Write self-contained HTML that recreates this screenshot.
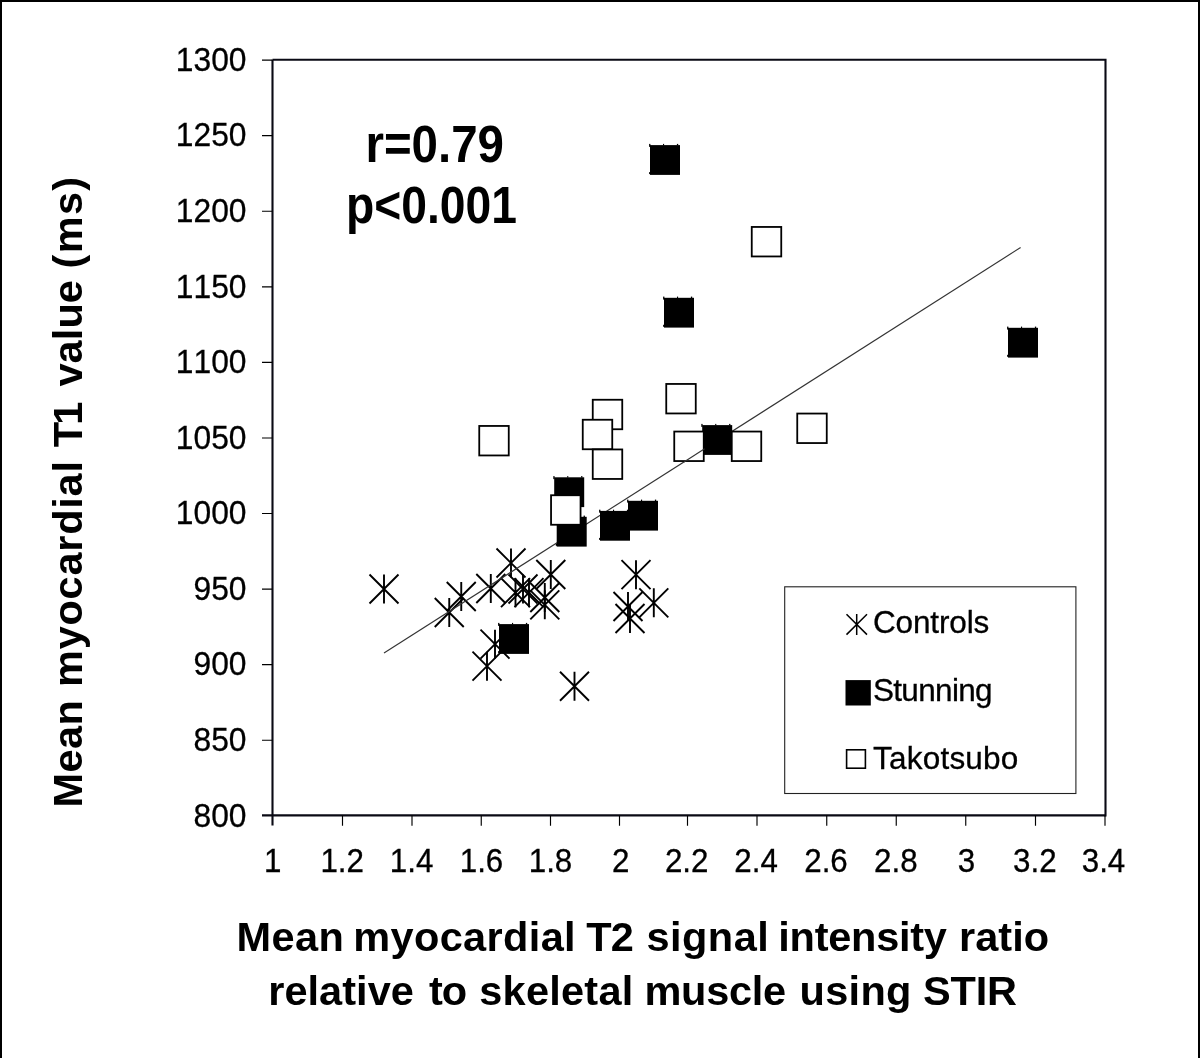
<!DOCTYPE html>
<html lang="en"><head><meta charset="utf-8"><title>Figure</title>
<style>
html,body{margin:0;padding:0;background:#fff;}
body{width:1200px;height:1058px;overflow:hidden;position:relative;}
svg{display:block;position:absolute;left:0;top:0;}
text{font-family:"Liberation Sans",Arial,sans-serif;fill:#000;}
.nk text{font-kerning:none;}
.b{font-weight:bold;}
</style></head><body>
<svg width="1200" height="1058" viewBox="0 0 1200 1058">
<defs>
<g id="st" stroke="#000" stroke-width="1.9" fill="none"><path d="M-14.5-14.5L14.5 14.5M14.5-14.5L-14.5 14.5M0-14.5V14.5"/></g>
<g id="bk" fill="#000"><rect x="-15" y="-14.9" width="30" height="29.8"/><rect x="-15.9" y="-16.1" width="1.3" height="3"/><rect x="-2" y="-16.1" width="1.1" height="1.5"/><rect x="11.9" y="-16.1" width="1.3" height="1.5"/><rect x="-15.9" y="12.1" width="1.2" height="2"/></g>
<rect id="wh" x="-14.75" y="-14.75" width="29.5" height="29.5" fill="#fff" stroke="#000" stroke-width="1.8"/>
</defs>
<rect x="0" y="0" width="1200" height="1058" fill="#fff"/>
<!-- outer frame -->
<rect x="0" y="0" width="1200" height="2" fill="#000"/>
<rect x="0" y="0" width="2" height="1058" fill="#000"/>
<rect x="1198" y="0" width="2" height="1058" fill="#000"/>

<g stroke="#0a0a14" stroke-width="2.1" fill="none">
<path d="M272.5 59.7H1105.5V816.4"/>
<path d="M272.5 59.7V825.4M262.0 815.4H1105.5"/>
<path stroke="#000" stroke-width="1.15" d="M262.0 60.10H272.5M262.0 135.67H272.5M262.0 211.24H272.5M262.0 286.81H272.5M262.0 362.38H272.5M262.0 437.95H272.5M262.0 513.52H272.5M262.0 589.09H272.5M262.0 664.66H272.5M262.0 740.23H272.5M342.50 815.4V825.6999999999999M412.00 815.4V825.6999999999999M481.25 815.4V825.6999999999999M550.50 815.4V825.6999999999999M619.50 815.4V825.6999999999999M687.50 815.4V825.6999999999999M757.00 815.4V825.6999999999999M826.75 815.4V825.6999999999999M896.25 815.4V825.6999999999999M965.75 815.4V825.6999999999999M1035.50 815.4V825.6999999999999M1105.00 815.4V825.6999999999999"/>
</g>
<g class="nk">
<text font-size="33.3" text-anchor="end" stroke="#000" stroke-width="0.3" transform="translate(246.5 70.8) scale(0.955 1)">1300</text>
<text font-size="33.3" text-anchor="end" stroke="#000" stroke-width="0.3" transform="translate(246.5 146.4) scale(0.955 1)">1250</text>
<text font-size="33.3" text-anchor="end" stroke="#000" stroke-width="0.3" transform="translate(246.5 221.9) scale(0.955 1)">1200</text>
<text font-size="33.3" text-anchor="end" stroke="#000" stroke-width="0.3" transform="translate(246.5 297.5) scale(0.955 1)">1150</text>
<text font-size="33.3" text-anchor="end" stroke="#000" stroke-width="0.3" transform="translate(246.5 373.1) scale(0.955 1)">1100</text>
<text font-size="33.3" text-anchor="end" stroke="#000" stroke-width="0.3" transform="translate(246.5 448.6) scale(0.955 1)">1050</text>
<text font-size="33.3" text-anchor="end" stroke="#000" stroke-width="0.3" transform="translate(246.5 524.2) scale(0.955 1)">1000</text>
<text font-size="33.3" text-anchor="end" stroke="#000" stroke-width="0.3" transform="translate(246.5 599.8) scale(0.955 1)">950</text>
<text font-size="33.3" text-anchor="end" stroke="#000" stroke-width="0.3" transform="translate(246.5 675.4) scale(0.955 1)">900</text>
<text font-size="33.3" text-anchor="end" stroke="#000" stroke-width="0.3" transform="translate(246.5 750.9) scale(0.955 1)">850</text>
<text font-size="33.3" text-anchor="end" stroke="#000" stroke-width="0.3" transform="translate(246.5 826.5) scale(0.955 1)">800</text>
</g>
<g class="nk">
<text font-size="33" text-anchor="middle" stroke="#000" stroke-width="0.3" transform="translate(272.8 871.7) scale(0.95 1)">1</text>
<text font-size="33" text-anchor="middle" stroke="#000" stroke-width="0.3" transform="translate(342.2 871.7) scale(0.95 1)">1.2</text>
<text font-size="33" text-anchor="middle" stroke="#000" stroke-width="0.3" transform="translate(411.6 871.7) scale(0.95 1)">1.4</text>
<text font-size="33" text-anchor="middle" stroke="#000" stroke-width="0.3" transform="translate(481.5 871.7) scale(0.95 1)">1.6</text>
<text font-size="33" text-anchor="middle" stroke="#000" stroke-width="0.3" transform="translate(550.5 871.7) scale(0.95 1)">1.8</text>
<text font-size="33" text-anchor="middle" stroke="#000" stroke-width="0.3" transform="translate(620.7 871.7) scale(0.95 1)">2</text>
<text font-size="33" text-anchor="middle" stroke="#000" stroke-width="0.3" transform="translate(686.7 871.7) scale(0.95 1)">2.2</text>
<text font-size="33" text-anchor="middle" stroke="#000" stroke-width="0.3" transform="translate(756.1 871.7) scale(0.95 1)">2.4</text>
<text font-size="33" text-anchor="middle" stroke="#000" stroke-width="0.3" transform="translate(826.0 871.7) scale(0.95 1)">2.6</text>
<text font-size="33" text-anchor="middle" stroke="#000" stroke-width="0.3" transform="translate(895.9 871.7) scale(0.95 1)">2.8</text>
<text font-size="33" text-anchor="middle" stroke="#000" stroke-width="0.3" transform="translate(966.5 871.7) scale(0.95 1)">3</text>
<text font-size="33" text-anchor="middle" stroke="#000" stroke-width="0.3" transform="translate(1034.8 871.7) scale(0.95 1)">3.2</text>
<text font-size="33" text-anchor="middle" stroke="#000" stroke-width="0.3" transform="translate(1103.5 871.7) scale(0.95 1)">3.4</text>
</g>
<use href="#st" x="384" y="589"/>
<use href="#st" x="449.25" y="612.5"/>
<use href="#st" x="461.25" y="596.5"/>
<use href="#st" x="490.8" y="588.5"/>
<use href="#st" x="511" y="563"/>
<use href="#st" x="515.5" y="592.7"/>
<use href="#st" x="523" y="589"/>
<use href="#st" x="529" y="592.7"/>
<use href="#st" x="544.8" y="597.5"/>
<use href="#st" x="544.8" y="604.8"/>
<use href="#st" x="550.8" y="574.5"/>
<use href="#st" x="495" y="644.2"/>
<use href="#st" x="487" y="666.2"/>
<use href="#st" x="574.5" y="686.25"/>
<use href="#st" x="636" y="574.7"/>
<use href="#st" x="653.8" y="602.8"/>
<use href="#st" x="628" y="606.5"/>
<use href="#st" x="630" y="618.5"/>
<line x1="384" y1="653" x2="1020.6" y2="247.5" stroke="#333" stroke-width="1.15"/>
<use href="#bk" x="569.2" y="492.2"/>
<use href="#bk" x="571.7" y="531.7"/>
<use href="#bk" x="615" y="525.8"/>
<use href="#bk" x="643" y="515.7"/>
<use href="#bk" x="665" y="160"/>
<use href="#bk" x="679" y="312.7"/>
<use href="#bk" x="1023" y="342.7"/>
<use href="#bk" x="717.2" y="440"/>
<use href="#bk" x="514" y="639"/>
<use href="#wh" x="494" y="440.7"/>
<use href="#wh" x="607.5" y="414.5"/>
<use href="#wh" x="597.5" y="434.5"/>
<use href="#wh" x="607.5" y="464.2"/>
<use href="#wh" x="681" y="398.7"/>
<use href="#wh" x="689" y="446.3"/>
<use href="#wh" x="565.8" y="510"/>
<use href="#wh" x="766.5" y="241.7"/>
<use href="#wh" x="812" y="428.3"/>
<use href="#wh" x="746.5" y="446.3"/>
<line x1="684" y1="461.9" x2="704.6" y2="448.8" stroke="#333" stroke-width="1.15"/>
<text class="b" font-size="51" transform="translate(365.4 161.6) scale(0.931 1)">r=0.79</text>
<text class="b" font-size="51" transform="translate(346 223.1) scale(0.907 1)">p&lt;0.001</text>
<text class="b" font-size="41.5" transform="translate(0 951.2)"><tspan x="236.50" letter-spacing="0.417">Mean </tspan><tspan x="353.25" letter-spacing="0.361">myocardial </tspan><tspan x="586.25" letter-spacing="-0.750">T2 </tspan><tspan x="646.50" letter-spacing="0.460">signal </tspan><tspan x="778.25" letter-spacing="-0.250">intensity </tspan><tspan x="959.00" letter-spacing="0.025">ratio</tspan></text>
<text class="b" font-size="41.5" transform="translate(0 1004.8)"><tspan x="268.25" letter-spacing="0.036">relative </tspan><tspan x="429.00" letter-spacing="-1.000">to </tspan><tspan x="479.25" letter-spacing="0.250">skeletal </tspan><tspan x="644.50" letter-spacing="-0.300">muscle </tspan><tspan x="799.50" letter-spacing="0.312">using </tspan><tspan x="923.00" letter-spacing="-0.167">STIR</tspan></text>
<text class="b" font-size="41.5" transform="translate(82 0) rotate(-90)"><tspan x="-807.60" letter-spacing="0.433">Mean </tspan><tspan x="-687.00" letter-spacing="0.756">myocardial </tspan><tspan x="-447.20" letter-spacing="-3.000">T1 </tspan><tspan x="-386.60" letter-spacing="0.100">value </tspan><tspan x="-268.40" letter-spacing="1.300">(ms)</tspan></text>
<rect x="784.7" y="586.8" width="291.2" height="206.7" fill="#fff" stroke="#222" stroke-width="1.1"/>
<g stroke="#000" stroke-width="1.5" fill="none"><path d="M846.5 614.3L867 634.6M867 614.3L846.5 634.6M856.7 614V635"/></g>
<rect x="845.5" y="680.1" width="25.3" height="25.4" fill="#000"/>
<rect x="846.6" y="749.8" width="18.8" height="18.4" fill="#fff" stroke="#000" stroke-width="1.6"/>
<text font-size="31.5" letter-spacing="-0.13" stroke="#000" stroke-width="0.3" transform="translate(872.9 632.7)">Controls</text>
<text font-size="31.5" letter-spacing="-0.66" stroke="#000" stroke-width="0.3" transform="translate(872.9 700.7)">Stunning</text>
<text font-size="31.5" letter-spacing="0.2" stroke="#000" stroke-width="0.3" transform="translate(873.1 768.7)">Takotsubo</text>
</svg></body></html>
